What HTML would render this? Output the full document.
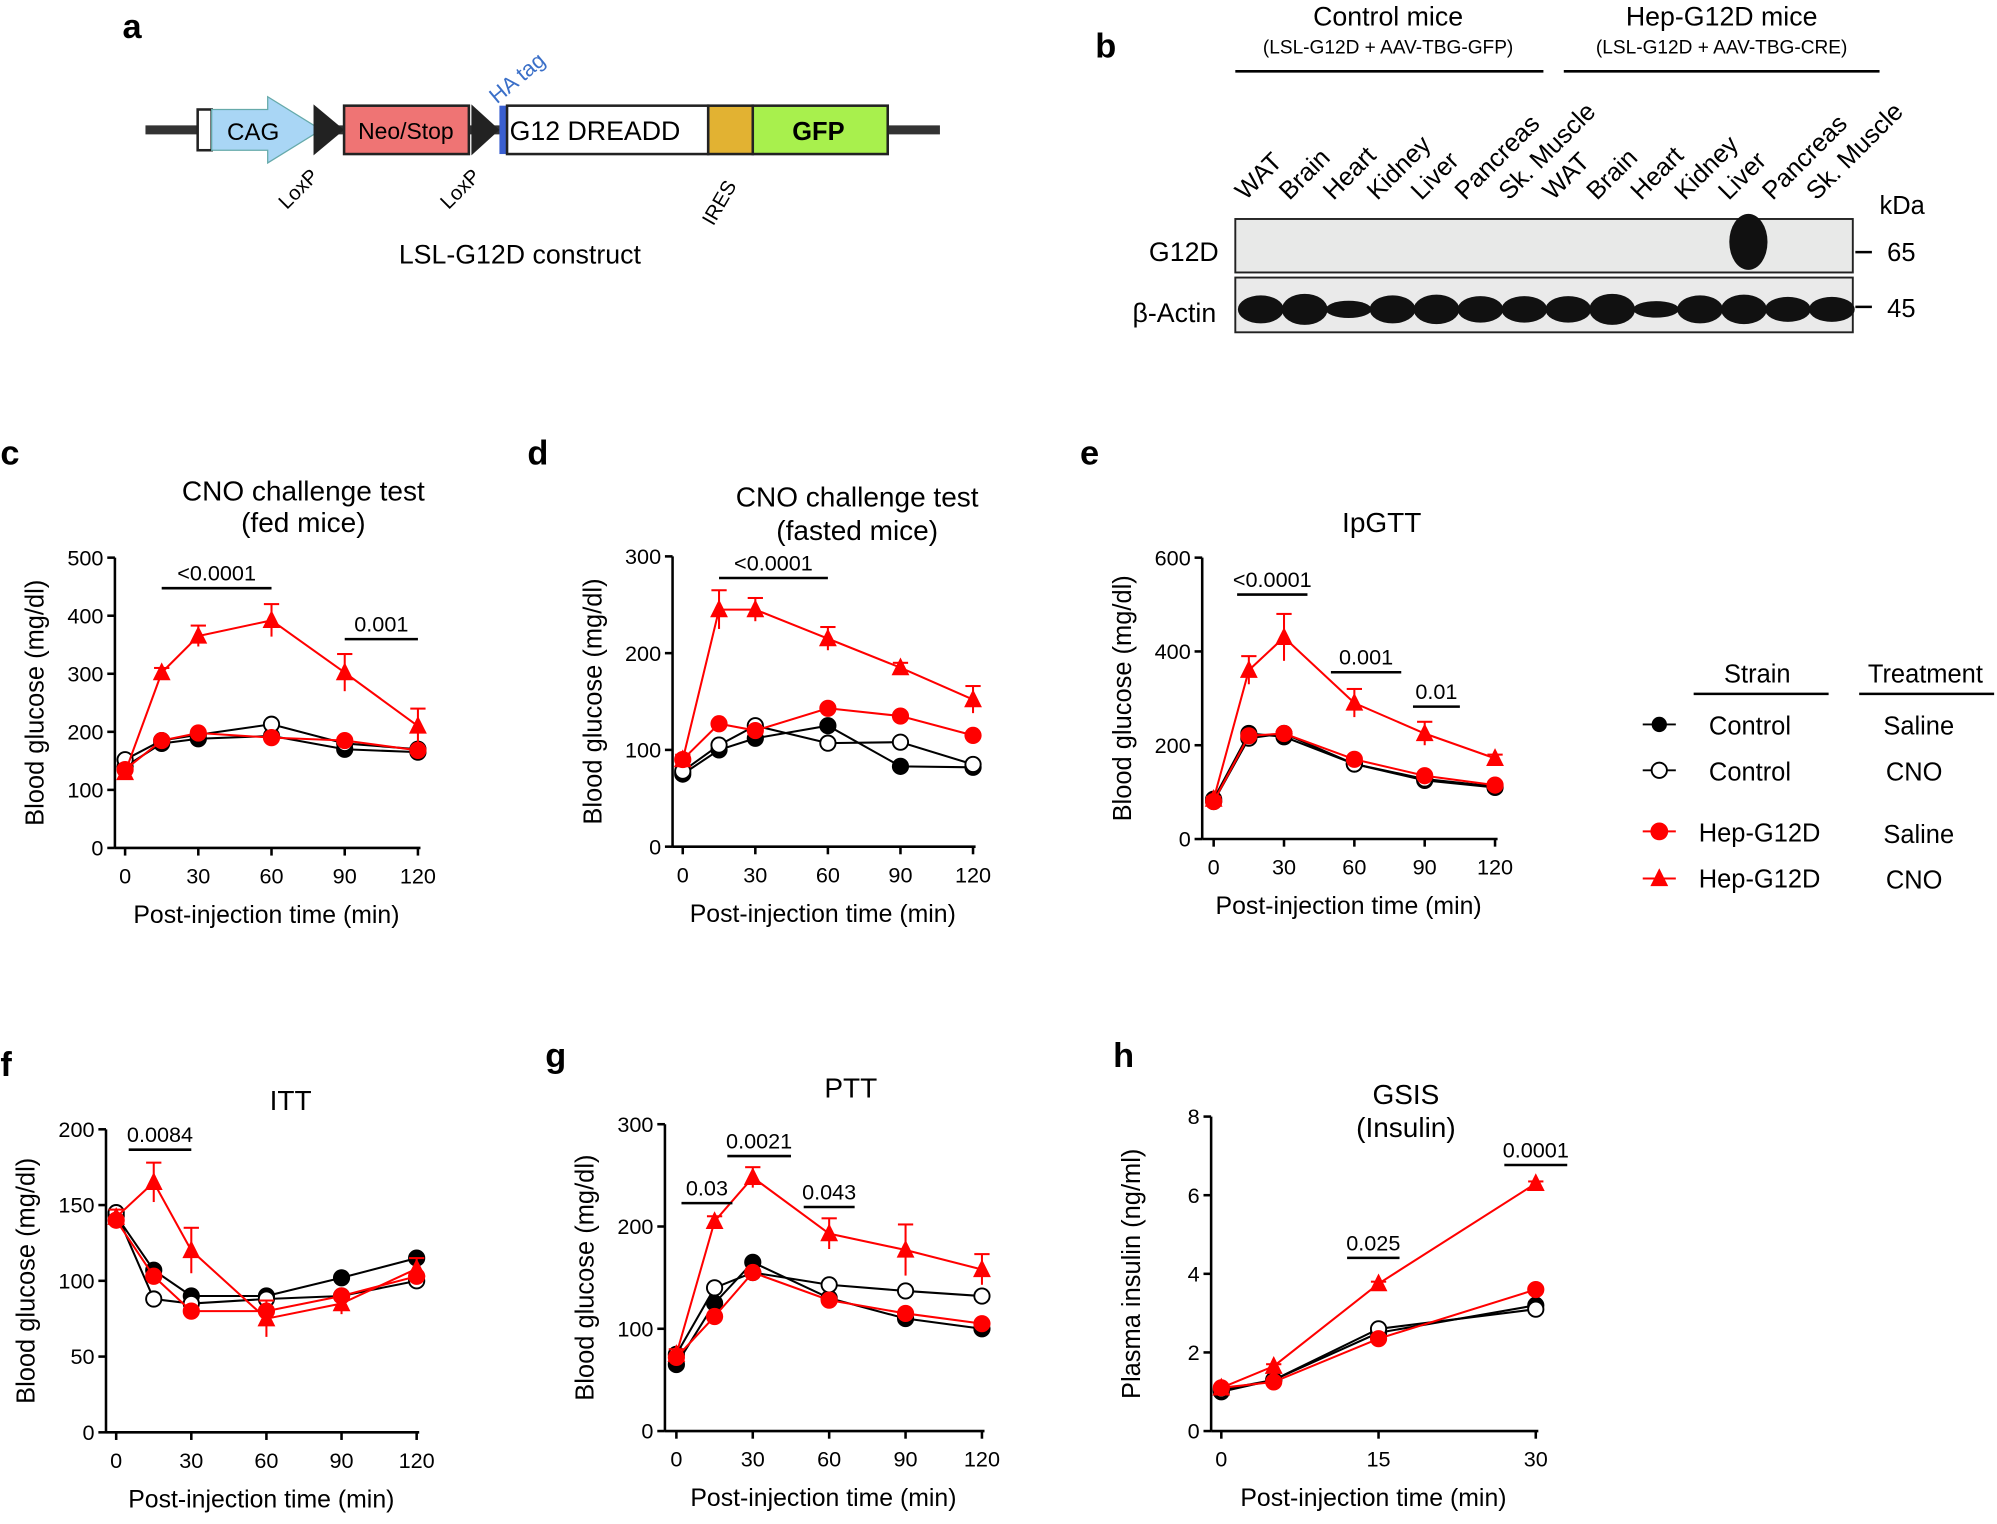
<!DOCTYPE html>
<html><head><meta charset="utf-8"><style>
html,body{margin:0;padding:0;background:#fff}
svg{display:block;font-family:"Liberation Sans",Arial,sans-serif}
</style></head><body>
<svg id="fig" width="1997" height="1524" viewBox="0 0 1568 1197" xmlns="http://www.w3.org/2000/svg">
<g>
<text x="96" y="30" font-size="27" font-weight="bold">a</text>
<line x1="114" y1="102" x2="738" y2="102" stroke="#333" stroke-width="7"/>
<rect x="155" y="86" width="11" height="32" fill="#fff" stroke="#222" stroke-width="2"/>
<polygon points="166,86 210,86 210,76 252,102 210,128 210,118 166,118" fill="#a9d6f5" stroke="#6aa" stroke-width="1"/>
<text x="178" y="110" font-size="19">CAG</text>
<polygon points="246,82 270,102 246,122" fill="#222"/>
<rect x="270" y="83" width="98" height="38" fill="#ef7474" stroke="#222" stroke-width="2"/>
<text x="281" y="109" font-size="18">Neo/Stop</text>
<polygon points="370,82 392,102 370,122" fill="#222"/>
<rect x="392" y="83" width="6" height="38" fill="#3a5fd0"/>
<rect x="398" y="83" width="158" height="38" fill="#fff" stroke="#222" stroke-width="2"/>
<text x="400" y="110" font-size="21">G12 DREADD</text>
<rect x="556" y="83" width="35" height="38" fill="#e2b232" stroke="#222" stroke-width="2"/>
<rect x="591" y="83" width="106" height="38" fill="#a8f04d" stroke="#222" stroke-width="2"/>
<text x="622" y="110" font-size="20" font-weight="bold">GFP</text>
<text transform="translate(390,82) rotate(-40)" font-size="17" fill="#3a6fc8">HA tag</text>
<text transform="translate(225,165) rotate(-45)" font-size="16">LoxP</text>
<text transform="translate(352,165) rotate(-45)" font-size="16">LoxP</text>
<text transform="translate(560,178) rotate(-60)" font-size="16">IRES</text>
<text x="313" y="207" font-size="21">LSL-G12D construct</text>
</g>
<g>
<text x="860" y="45" font-size="27" font-weight="bold">b</text>
<text x="1090" y="20" font-size="21" text-anchor="middle">Control mice</text>
<text x="1090" y="42" font-size="15" text-anchor="middle">(LSL-G12D + AAV-TBG-GFP)</text>
<line x1="970" y1="56" x2="1212" y2="56" stroke="#000" stroke-width="2"/>
<text x="1352" y="20" font-size="21" text-anchor="middle">Hep-G12D mice</text>
<text x="1352" y="42" font-size="15" text-anchor="middle">(LSL-G12D + AAV-TBG-CRE)</text>
<line x1="1228" y1="56" x2="1476" y2="56" stroke="#000" stroke-width="2"/>
<g id="lanes" font-size="20"></g>
<text x="1476" y="168" font-size="20">kDa</text>
<rect x="970" y="172" width="485" height="42" fill="#e8e9e8" stroke="#222" stroke-width="1.5"/>
<ellipse cx="1373" cy="190" rx="15" ry="22" fill="#111"/>
<rect x="970" y="218" width="485" height="43" fill="#eaeaea" stroke="#222" stroke-width="1.5"/>
<g id="actin" fill="#111"></g>
<text x="957" y="205" font-size="21" text-anchor="end">G12D</text>
<text x="955" y="253" font-size="21" text-anchor="end">β-Actin</text>
<line x1="1457" y1="198" x2="1470" y2="198" stroke="#000" stroke-width="2"/>
<text x="1482" y="205" font-size="20">65</text>
<line x1="1457" y1="241" x2="1470" y2="241" stroke="#000" stroke-width="2"/>
<text x="1482" y="249" font-size="20">45</text>
</g>
<g id="charts"></g>
<g font-size="20">
<text x="1380" y="536" text-anchor="middle">Strain</text>
<line x1="1330" y1="545" x2="1436" y2="545" stroke="#000" stroke-width="2"/>
<text x="1512" y="536" text-anchor="middle">Treatment</text>
<line x1="1460" y1="545" x2="1566" y2="545" stroke="#000" stroke-width="2"/>
<g><line x1="1290" y1="569" x2="1316" y2="569" stroke="#000" stroke-width="1.5"/><circle cx="1303" cy="569" r="6" fill="#000"/><text x="1342" y="577">Control</text><text x="1479" y="577">Saline</text></g>
<g><line x1="1290" y1="605" x2="1316" y2="605" stroke="#000" stroke-width="1.5"/><circle cx="1303" cy="605" r="6" fill="#fff" stroke="#000" stroke-width="1.5"/><text x="1342" y="613">Control</text><text x="1481" y="613">CNO</text></g>
<g><line x1="1290" y1="653" x2="1316" y2="653" stroke="#f00" stroke-width="1.5"/><circle cx="1303" cy="653" r="7" fill="#f00"/><text x="1334" y="661">Hep-G12D</text><text x="1479" y="662">Saline</text></g>
<g><line x1="1290" y1="690" x2="1316" y2="690" stroke="#f00" stroke-width="1.5"/><polygon points="1303,682 1310,696 1296,696" fill="#f00"/><text x="1334" y="697">Hep-G12D</text><text x="1481" y="698">CNO</text></g>
</g>
</svg>
<script>
const NS="http://www.w3.org/2000/svg";
function mk(tag,attrs,parent){const e=document.createElementNS(NS,tag);for(const k in attrs)e.setAttribute(k,attrs[k]);if(parent)parent.appendChild(e);return e;}
const laneNames=["WAT","Brain","Heart","Kidney","Liver","Pancreas","Sk. Muscle","WAT","Brain","Heart","Kidney","Liver","Pancreas","Sk. Muscle"];
const actinIntensity=[1,1.2,0.3,1,1.1,0.9,0.9,0.9,1.2,0.25,1,1.1,0.8,0.8];
const lg=document.getElementById('lanes'),ag=document.getElementById('actin');
laneNames.forEach((n,i)=>{const cx=990+i*34.5;
 const t=mk('text',{transform:`translate(${cx-12},${158}) rotate(-45)`},lg);t.textContent=n;
 
 
 const h=10+actinIntensity[i]*12;
 const b=mk('ellipse',{cx:cx,cy:243,rx:18,ry:h/2},ag);
 
 
});

const timesMain=[0,15,30,60,90,120];
const timesGSIS=[0,5,15,30];
const c_ctrlSal=[140,180,188,193,170,165];
const c_ctrlCNO=[152,185,195,213,180,170];
const c_hepSal=[135,185,198,190,185,168];
const c_hepCNO=[130,302,365,392,302,210];
const c_hepCNOerr=[8,8,18,28,32,30];
const d_ctrlSal=[75,100,112,125,83,82];
const d_ctrlCNO=[78,105,125,107,108,85];
const d_hepSal=[90,127,120,143,135,115];
const d_hepCNO=[90,245,245,215,185,152];
const d_hepCNOerr=[5,20,12,12,5,14];
const e_ctrlSal=[85,225,218,160,125,110];
const e_ctrlCNO=[80,215,225,160,128,112];
const e_hepSal=[80,220,225,170,135,115];
const e_hepCNO=[85,360,430,290,225,172];
const e_hepCNOerr=[5,30,50,30,25,8];
const f_ctrlSal=[143,107,90,90,102,115];
const f_ctrlCNO=[145,88,85,88,90,100];
const f_hepSal=[140,103,80,80,90,103];
const f_hepCNO=[142,165,120,75,85,108];
const f_hepCNOerr=[5,13,15,12,7,7];
const g_ctrlSal=[65,125,165,130,110,100];
const g_ctrlCNO=[75,140,155,143,137,132];
const g_hepSal=[72,112,155,128,115,105];
const g_hepCNO=[75,205,248,193,177,158];
const g_hepCNOerr=[5,5,10,15,25,15];
const h_ctrlSal=[1.0,1.3,2.5,3.2];
const h_ctrlCNO=[1.05,1.3,2.6,3.1];
const h_hepSal=[1.1,1.25,2.35,3.6];
const h_hepCNO=[1.1,1.65,3.75,6.3];
const h_hepCNOerr=[0.05,0.05,0.05,0.05];
const yTicksC=[0,100,200,300,400,500];
const yTicksD=[0,100,200,300];
const yTicksE=[0,200,400,600];
const yTicksF=[0,50,100,150,200];
const yTicksG=[0,100,200,300];
const yTicksH=[0,2,4,6,8];
const xTicksMain=[0,30,60,90,120];
const xTicksGSIS=[0,15,30];

const charts=[
 {id:'c',letter:'c',lx:0,ly:365,title:['CNO challenge test','(fed mice)'],tx:238,ty:[393,418],
  ax:90,x0:98,x1:328,xmax:120,yb:666,yt:438,ymax:500,yTicks:yTicksC,xTicks:xTicksMain,t:timesMain,
  s:[c_ctrlSal,c_ctrlCNO,c_hepSal,c_hepCNO],err:c_hepCNOerr,ylab:'Blood glucose (mg/dl)',
  sig:[[15,60,462,'<0.0001'],[90,120,502,'0.001']]},
 {id:'d',letter:'d',lx:414,ly:365,title:['CNO challenge test','(fasted mice)'],tx:673,ty:[398,424],
  ax:528,x0:536,x1:764,xmax:120,yb:665,yt:437,ymax:300,yTicks:yTicksD,xTicks:xTicksMain,t:timesMain,
  s:[d_ctrlSal,d_ctrlCNO,d_hepSal,d_hepCNO],err:d_hepCNOerr,ylab:'Blood glucose (mg/dl)',
  sig:[[15,60,454,'<0.0001']]},
 {id:'e',letter:'e',lx:848,ly:365,title:['IpGTT'],tx:1085,ty:[418],
  ax:944,x0:953,x1:1174,xmax:120,yb:659,yt:438,ymax:600,yTicks:yTicksE,xTicks:xTicksMain,t:timesMain,
  s:[e_ctrlSal,e_ctrlCNO,e_hepSal,e_hepCNO],err:e_hepCNOerr,ylab:'Blood glucose (mg/dl)',
  sig:[[10,40,467,'<0.0001'],[50,80,528,'0.001'],[85,105,555,'0.01']]},
 {id:'f',letter:'f',lx:0,ly:845,title:['ITT'],tx:228,ty:[872],
  ax:83,x0:91,x1:327,xmax:120,yb:1125,yt:887,ymax:200,yTicks:yTicksF,xTicks:xTicksMain,t:timesMain,
  s:[f_ctrlSal,f_ctrlCNO,f_hepSal,f_hepCNO],err:f_hepCNOerr,ylab:'Blood glucose (mg/dl)',
  sig:[[5,30,903,'0.0084']]},
 {id:'g',letter:'g',lx:428,ly:838,title:['PTT'],tx:668,ty:[862],
  ax:522,x0:531,x1:771,xmax:120,yb:1124,yt:883,ymax:300,yTicks:yTicksG,xTicks:xTicksMain,t:timesMain,
  s:[g_ctrlSal,g_ctrlCNO,g_hepSal,g_hepCNO],err:g_hepCNOerr,ylab:'Blood glucose (mg/dl)',
  sig:[[2,22,945,'0.03'],[20,45,908,'0.0021'],[50,70,948,'0.043']]},
 {id:'h',letter:'h',lx:874,ly:838,title:['GSIS','(Insulin)'],tx:1104,ty:[867,893],
  ax:951,x0:959,x1:1206,xmax:30,yb:1124,yt:877,ymax:8,yTicks:yTicksH,xTicks:xTicksGSIS,t:timesGSIS,
  s:[h_ctrlSal,h_ctrlCNO,h_hepSal,h_hepCNO],err:h_hepCNOerr,ylab:'Plasma insulin (ng/ml)',
  sig:[[12,17,988,'0.025'],[27,33,915,'0.0001']]},
];
const styles=[{c:'#000',m:'c',fill:'#000'},{c:'#000',m:'c',fill:'#fff'},{c:'#f00',m:'c',fill:'#f00'},{c:'#f00',m:'t',fill:'#f00'}];
const root=document.getElementById('charts');
charts.forEach(ch=>{
 const g=mk('g',{},root);
 
 
 const X=v=>ch.x0+(v/ch.xmax)*(ch.x1-ch.x0);
 const Y=v=>ch.yb-(v/ch.ymax)*(ch.yb-ch.yt);
 let t=mk('text',{x:ch.lx,y:ch.ly,'font-size':27,'font-weight':'bold'},g);t.textContent=ch.letter;
 
 
 ch.title.forEach((s,i)=>{const e=mk('text',{x:ch.tx,y:ch.ty[i],'font-size':22,'text-anchor':'middle'},g);e.textContent=s;
  
  });
 const ya=mk('line',{x1:ch.ax,y1:ch.yt,x2:ch.ax,y2:ch.yb,stroke:'#000','stroke-width':2},g);
 
 
 const xa=mk('line',{x1:ch.ax,y1:ch.yb,x2:ch.x1+2,y2:ch.yb,stroke:'#000','stroke-width':2},g);
 
 
 ch.yTicks.forEach(v=>{mk('line',{x1:ch.ax-6,y1:Y(v),x2:ch.ax,y2:Y(v),stroke:'#000','stroke-width':2},g);
  const e=mk('text',{x:ch.ax-9,y:Y(v)+6,'font-size':17,'text-anchor':'end'},g);e.textContent=v;
  
  });
 ch.xTicks.forEach(v=>{mk('line',{x1:X(v),y1:ch.yb,x2:X(v),y2:ch.yb+6,stroke:'#000','stroke-width':2},g);
  const e=mk('text',{x:X(v),y:ch.yb+28,'font-size':17,'text-anchor':'middle'},g);e.textContent=v;
  
  });
 let xl=mk('text',{x:(ch.ax+ch.x1)/2,y:ch.yb+59,'font-size':19.5,'text-anchor':'middle'},g);xl.textContent='Post-injection time (min)';
 
 
 let yl=mk('text',{transform:`translate(${ch.ax-56},${(ch.yt+ch.yb)/2}) rotate(-90)`,'font-size':20,'text-anchor':'middle'},g);yl.textContent=ch.ylab;
 
 
 ch.s.forEach((vals,si)=>{const st=styles[si];
  const sg=mk('g',{},g);
  
  
  mk('polyline',{points:vals.map((v,i)=>X(ch.t[i])+','+Y(v)).join(' '),fill:'none',stroke:st.c,'stroke-width':1.6},sg);
  vals.forEach((v,i)=>{const x=X(ch.t[i]),y=Y(v);
   if(si===3){const e=ch.err[i];mk('line',{x1:x,y1:Y(v+e),x2:x,y2:Y(v-e),stroke:st.c,'stroke-width':1.6},sg);
    mk('line',{x1:x-6,y1:Y(v+e),x2:x+6,y2:Y(v+e),stroke:st.c,'stroke-width':1.6},sg);}
   let m;
   if(st.m==='t')m=mk('polygon',{points:`${x},${y-8} ${x+7},${y+6} ${x-7},${y+6}`,fill:st.fill},sg);
   else m=mk('circle',{cx:x,cy:y,r:6,fill:st.fill,stroke:st.c,'stroke-width':1.5},sg);
   
   
  });
 });
 ch.sig.forEach(s=>{mk('line',{x1:X(s[0]),y1:s[2],x2:X(s[1]),y2:s[2],stroke:'#000','stroke-width':2},g);
  const e=mk('text',{x:(X(s[0])+X(s[1]))/2,y:s[2]-6,'font-size':17,'text-anchor':'middle'},g);e.textContent=s[3];
  
  });
});
</script>
</body></html>
